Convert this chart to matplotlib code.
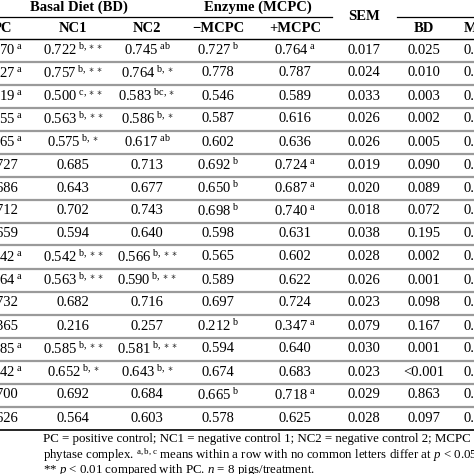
import matplotlib
matplotlib.use("Agg")
import matplotlib.pyplot as plt
from matplotlib.lines import Line2D

plt.rcParams['font.family'] = 'Liberation Serif'
plt.rcParams['mathtext.fontset'] = 'custom'
plt.rcParams['mathtext.rm'] = 'Liberation Serif'
plt.rcParams['mathtext.it'] = 'Liberation Serif:italic'

PC = ["0.770|a","0.827|a","0.619|a","0.655|a","0.665|a","0.727","0.686","0.712","0.659",
      "0.642|a","0.664|a","0.732","0.365","0.685|a","0.742|a","0.700","0.626"]
NC1 = ["0.722|b,**","0.757|b,**","0.500|c,**","0.563|b,**","0.575|b,*","0.685","0.643","0.702","0.594",
       "0.542|b,**","0.563|b,**","0.682","0.216","0.585|b,**","0.652|b,*","0.692","0.564"]
NC2 = ["0.745|ab","0.764|b,*","0.583|bc,*","0.586|b,*","0.617|ab","0.713","0.677","0.743","0.640",
       "0.566|b,**","0.590|b,**","0.716","0.257","0.581|b,**","0.643|b,*","0.684","0.603"]
MINUS = ["0.727|b","0.778","0.546","0.587","0.602","0.692|b","0.650|b","0.698|b","0.598",
         "0.565","0.589","0.697","0.212|b","0.594","0.674","0.665|b","0.578"]
PLUS = ["0.764|a","0.787","0.589","0.616","0.636","0.724|a","0.687|a","0.740|a","0.631",
        "0.602","0.622","0.724","0.347|a","0.640","0.683","0.718|a","0.625"]
SEM = ["0.017","0.024","0.033","0.026","0.026","0.019","0.020","0.018","0.038",
       "0.028","0.026","0.023","0.079","0.030","0.023","0.029","0.028"]
BD = ["0.025","0.010","0.003","0.002","0.005","0.090","0.089","0.072","0.195",
      "0.002","0.001","0.098","0.167","0.001","<0.001","0.863","0.097"]
MC = ["0.012","0.031","0.125","0.108","0.132","0.041","0.036","0.021","0.912",
      "0.134","0.121","0.136","0.011","0.018","0.027","0.054","0.043"]

W = H = 474
fig = plt.figure(figsize=(4.74, 4.74), dpi=100)
fs = 10.5

def T(x, y, s, **kw):
    kw.setdefault('fontsize', fs)
    kw.setdefault('va', 'center')
    kw.setdefault('ha', 'center')
    fig.text(x / W, 1 - y / H, s, **kw)

def L(x0, x1, y, color='black', lw=1.0):
    fig.add_artist(Line2D([x0 / W, x1 / W], [1 - y / H, 1 - y / H], color=color, lw=lw,
                          transform=fig.transFigure))

def cell(x, y, s, ha='center'):
    if '|' in s:
        v, sup = s.split('|')
        sup = sup.replace('*', r'\ast')
        T(x, y, v + r'$^{\mathrm{\ ' + sup + '}}$', ha=ha)
    else:
        T(x, y, s, ha=ha)

# headers
T(79, 7, "Basal Diet (BD)", fontweight='bold')
T(258, 7, "Enzyme (MCPC)", fontweight='bold')
T(364, 17, "SEM", fontweight='bold')
L(0, 332, 16.5, lw=0.9)
L(397, 474, 16.5, lw=0.9)
cols = [2, 73, 147, 218, 295, 364, 424]
heads = ["PC", "NC1", "NC2", "\u2212MCPC", "+MCPC", "", "BD"]
for x, h in zip(cols, heads):
    if h:
        T(x, 28, h, fontweight='bold')
T(464, 28, "MCPC", fontweight='bold', ha='left')
L(0, 474, 38.5, lw=1.0)

y0, dy = 50, 23.0
data = [PC, NC1, NC2, MINUS, PLUS, SEM, BD]
n = len(SEM)
for i in range(n):
    y = y0 + i * dy
    for x, col in zip(cols, data):
        cell(x, y, col[i])
    T(464, y, MC[i], ha='left')
    if i < n - 1:
        L(0, 474, y + dy / 2, color='#9a9a9a', lw=1.6)
L(0, 474, y0 + (n - 1) * dy + 11.5, lw=1.2)

fn = 9.3
T(43, 439, "PC = positive control; NC1 = negative control 1; NC2 = negative control 2; MCPC = multi-carbohydrase and",
  ha='left', fontsize=fn)
T(43, 455, r"phytase complex. $^{\mathrm{a,b,c}}$ means within a row with no common letters differ at $p$ < 0.05 compared",
  ha='left', fontsize=fn)
T(43, 470, r"** $p$ < 0.01 compared with PC. $n$ = 8 pigs/treatment.", ha='left', fontsize=fn)

fig.savefig("out.png", dpi=100)
